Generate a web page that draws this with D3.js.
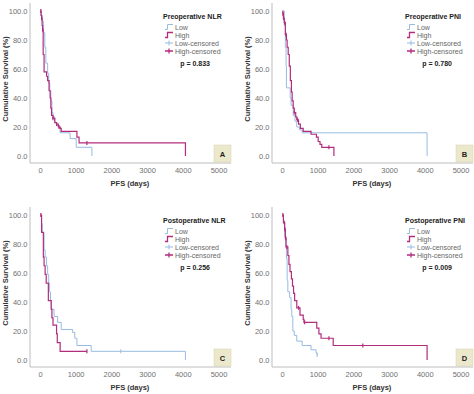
<!DOCTYPE html>
<html><head><meta charset="utf-8">
<script src="https://cdn.jsdelivr.net/npm/d3@7"></script>
<style>body{margin:0;background:#fff}svg{display:block}text{font-family:"Liberation Sans",Arial,sans-serif}</style>
</head><body>
<svg id="c" width="474" height="394"></svg>
<script>
const panelTitles = ["Preoperative NLR","Preoperative PNI","Postoperative NLR","Postoperative PNI"];
const panelLetters = ["A","B","C","D"];
const pValues = ["p = 0.833","p = 0.780","p = 0.256","p = 0.009"];
const seriesNames = ["Low","High","Low-censored","High-censored"];
const yTicks = [0,20,40,60,80,100];
const xTicks = [0,1000,2000,3000,4000,5000];

const lowA = [[0,100],[20,97],[50,93],[80,85],[120,75],[150,64],[200,57],[230,50],[260,45],[290,38],[320,30],[350,27],[400,23],[450,21],[500,20],[550,16],[830,12],[1000,6],[1440,0]];
const highA = [[0,100],[15,97],[30,95],[45,90],[60,87],[75,70],[100,58],[170,55],[200,52],[240,45],[270,40],[290,33],[310,28],[350,26],[400,23],[450,22],[500,20],[550,19],[580,17],[1020,13],[1080,9],[4060,0]];
const lowCensA = [];
const highCensA = [[10,100],[30,95],[60,87],[350,26],[450,22],[520,20],[1300,9]];

const lowB = [[0,100],[50,90],[80,75],[100,62],[110,47],[215,40],[240,35],[300,28],[350,24],[400,20],[480,18],[550,16],[4050,0]];
const highB = [[0,100],[10,98],[25,95],[50,92],[80,84],[110,80],[130,75],[160,70],[190,62],[220,52],[250,44],[270,38],[300,33],[330,30],[370,27],[400,25],[450,22],[500,19],[580,17],[800,15],[950,13],[1000,10],[1050,8],[1100,6],[1440,0]];
const lowCensB = [];
const highCensB = [[15,98],[30,95],[60,92],[90,84],[330,30],[420,25],[1300,6]];

const lowC = [[0,100],[30,94],[50,88],[100,76],[130,71],[170,65],[200,59],[230,53],[250,47],[280,41],[300,35],[380,30],[480,26],[580,21],[900,19],[960,15],[1020,10],[1420,6],[4060,0]];
const highC = [[0,100],[30,88],[80,71],[100,65],[130,59],[160,53],[220,41],[300,35],[320,29],[350,24],[450,18],[470,12],[550,6],[1300,6]];
const lowCensC = [[2250,6]];
const highCensC = [[10,100],[1300,6]];

const lowD = [[0,100],[30,95],[60,85],[90,78],[110,70],[130,55],[150,47],[200,43],[240,35],[260,30],[290,20],[330,17],[400,13],[550,10],[800,7],[940,5],[970,3.5]];
const highD = [[0,100],[25,95],[60,90],[80,84],[100,78],[150,72],[180,66],[210,61],[250,56],[280,51],[310,46],[340,41],[400,36],[490,31],[580,28],[600,26],[960,22],[1020,18],[1080,15],[1420,10],[4050,0]];
const lowCensD = [[970,3.5]];
const highCensD = [[10,100],[40,95],[70,90],[90,84],[120,78],[450,36],[620,26],[1300,15],[2250,10]];

const panels = [
  {low:lowA, high:highA, lc:lowCensA, hc:highCensA, ox:0, oy:0},
  {low:lowB, high:highB, lc:lowCensB, hc:highCensB, ox:242, oy:0},
  {low:lowC, high:highC, lc:lowCensC, hc:highCensC, ox:0, oy:204},
  {low:lowD, high:highD, lc:lowCensD, hc:highCensD, ox:242, oy:204}
];

const lowColor = "#98bbe2", highColor = "#b32d7d";
const svg = d3.select("#c");

panels.forEach((p,i)=>{
  const g = svg.append("g").attr("transform",`translate(${p.ox},${p.oy})`);
  const x = d3.scaleLinear().domain([0,5000]).range([40.5,219]);
  const y = d3.scaleLinear().domain([0,100]).range([156,11]);
  // axes lines
  g.append("line").attr("x1",30).attr("x2",30).attr("y1",3).attr("y2",163).attr("stroke","#bdbdbd").attr("stroke-width",1);
  g.append("line").attr("x1",30).attr("x2",231).attr("y1",163).attr("y2",163).attr("stroke","#bdbdbd").attr("stroke-width",1);
  // tick labels
  g.selectAll(".yt").data(yTicks).enter().append("text")
    .attr("x",27.5).attr("y",d=>y(d)+2.7).attr("text-anchor","end")
    .attr("font-size",7.5).attr("fill","#707070").text(d=>d3.format(".1f")(d));
  g.selectAll(".xt").data(xTicks).enter().append("text")
    .attr("x",d=>x(d)).attr("y",173).attr("text-anchor","middle")
    .attr("font-size",7.5).attr("fill","#707070").text(d=>d);
  g.append("text").attr("x",130).attr("y",185.5).attr("text-anchor","middle")
    .attr("font-size",7.5).attr("font-weight","bold").attr("fill","#333").text("PFS (days)");
  g.append("text").attr("transform","translate(7.5,79) rotate(-90)").attr("text-anchor","middle")
    .attr("font-size",7.5).attr("font-weight","bold").attr("fill","#333").text("Cumulative Survival (%)");
  // letter box
  g.append("rect").attr("x",214).attr("y",145).attr("width",17).attr("height",17)
    .attr("fill","#ebe8cb").attr("stroke","#d8d4b0").attr("stroke-width",0.5);
  g.append("text").attr("x",222.5).attr("y",156.5).attr("text-anchor","middle")
    .attr("font-size",7.5).attr("font-weight","bold").attr("fill","#222").text(panelLetters[i]);
  // curves
  const line = d3.line().x(d=>x(d[0])).y(d=>y(d[1])).curve(d3.curveStepAfter);
  g.append("path").datum(p.low).attr("d",line).attr("fill","none").attr("stroke",lowColor).attr("stroke-width",1);
  g.append("path").datum(p.high).attr("d",line).attr("fill","none").attr("stroke",highColor).attr("stroke-width",1.2);
  // censor marks
  const cens = (data,col,w)=>g.selectAll(null).data(data).enter().append("line")
    .attr("x1",d=>x(d[0])).attr("x2",d=>x(d[0])).attr("y1",d=>y(d[1])-2).attr("y2",d=>y(d[1])+2)
    .attr("stroke",col).attr("stroke-width",w);
  cens(p.lc,lowColor,1); cens(p.hc,highColor,1.2);
  // legend
  const lx = 163;
  g.append("text").attr("x",lx).attr("y",18.5).attr("font-size",7).attr("font-weight","bold").attr("fill","#222").text(panelTitles[i]);
  const ly = [27,35,43,51];
  seriesNames.forEach((nm,k)=>{
    const col = k%2===0?lowColor:highColor, sw = k%2===0?1:1.3, yy = ly[k];
    if(k<2){
      g.append("path").attr("d",`M165,${yy+2.5}H167.5V${yy-2.5}H173`).attr("fill","none").attr("stroke",col).attr("stroke-width",sw);
    } else {
      g.append("path").attr("d",`M165,${yy}H173M169,${yy-2.5}V${yy+2.5}`).attr("fill","none").attr("stroke",col).attr("stroke-width",sw);
    }
    g.append("text").attr("x",175).attr("y",yy+2.6).attr("font-size",7).attr("fill","#666").text(nm);
  });
  g.append("text").attr("x",210).attr("y",65.5).attr("text-anchor","end").attr("font-size",7).attr("font-weight","bold").attr("fill","#222").text(pValues[i]);
});
</script>
</body></html>
